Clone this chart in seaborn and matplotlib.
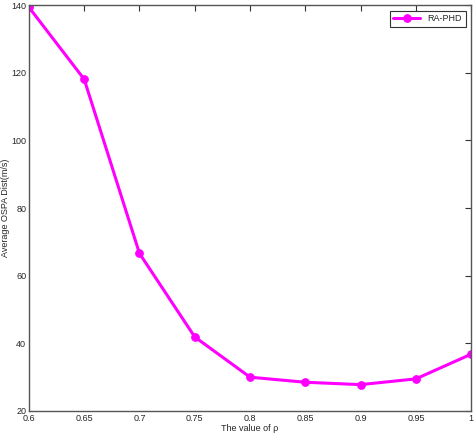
import pandas as pd
import numpy as np
import matplotlib
matplotlib.use('Agg')
import matplotlib.pyplot as plt
import seaborn as sns

sns.set_style('white')
plt.rcParams['font.family'] = ['Liberation Sans', 'DejaVu Sans']

p_values = [0.6, 0.65, 0.7, 0.75, 0.8, 0.85, 0.9, 0.95, 1.0]
ospa_dist = [139.4, 118.1, 66.6, 41.9, 30.0, 28.5, 27.8, 29.5, 36.8]
x_ticks = [0.6, 0.65, 0.7, 0.75, 0.8, 0.85, 0.9, 0.95, 1.0]
x_tick_labels = ['0.6', '0.65', '0.7', '0.75', '0.8', '0.85', '0.9', '0.95', '1']
y_ticks = [20, 40, 60, 80, 100, 120, 140]

df = pd.DataFrame({'p': p_values, 'dist': ospa_dist})

fig = plt.figure(figsize=(4.74, 4.34), dpi=100)
ax = fig.add_axes([0.061, 0.053, 0.933, 0.935])

sns.lineplot(data=df, x='p', y='dist', ax=ax, color='#ff00ff', lw=2.2,
             marker='o', markersize=5.5, markeredgecolor='#ff00ff', label='RA-PHD')

ax.set_xlim(0.6, 1.0)
ax.set_ylim(20, 140)
ax.set_xticks(x_ticks)
ax.set_xticklabels(x_tick_labels)
ax.set_yticks(y_ticks)
ax.tick_params(direction='in', length=4, width=0.8, labelsize=6.5, color='#333333',
               top=True, right=True, pad=2)
for s in ax.spines.values():
    s.set_color('#555555')
    s.set_linewidth(1)

ax.set_xlabel('The value of ρ', fontsize=6.5, labelpad=1)
ax.set_ylabel('Average OSPA Dist(m/s)', fontsize=6.5, labelpad=1)

leg = ax.legend(loc='upper right', fontsize=6.5, fancybox=False, handlelength=3,
                borderaxespad=0.6, edgecolor='#333333', framealpha=1)
leg.get_frame().set_linewidth(0.8)

plt.savefig('out.png', dpi=100)
